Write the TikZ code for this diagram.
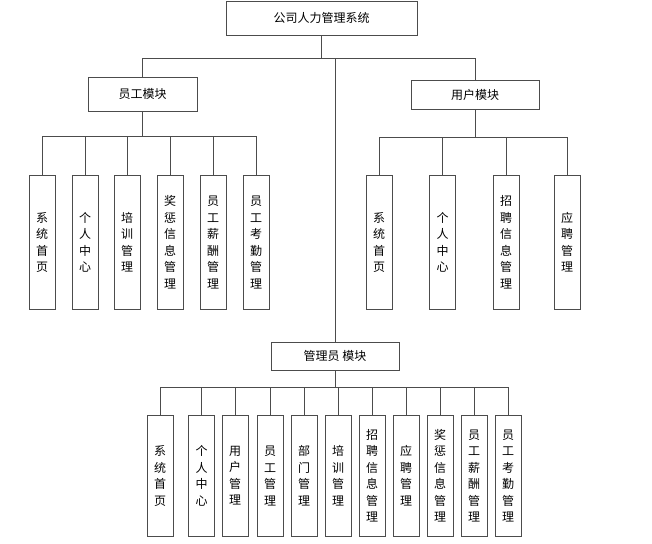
\documentclass[tikz,border=0pt]{standalone}
\usepackage{fontspec}
\setmainfont{Noto Sans CJK SC}
\begin{document}
\begin{tikzpicture}[x=1pt,y=-1pt,
  box/.style={draw=black!70,line width=0.8pt,inner sep=0pt,font=\fontsize{12}{16.5}\selectfont,align=center},
  leaf/.style={box,minimum width=26pt,anchor=north},
  link/.style={draw=black!70,line width=0.8pt}]
\useasboundingbox[fill=white] (0,0) rectangle (652,543);
\node[box,minimum width=191pt,minimum height=34pt] (top) at (321.5,18) {公司人力管理系统};
\node[box,minimum width=109pt,minimum height=34pt] (emp) at (142.5,94) {员工模块};
\node[box,minimum width=128pt,minimum height=29pt] (usr) at (475,94.5) {用户模块};
\node[box,minimum width=128pt,minimum height=28pt] (adm) at (335,356) {管理员 模块};
\draw[link] (top.south) -- ++(0,23) -| (emp.north);
\draw[link] (top.south) -- ++(0,23) -| (usr.north);
\draw[link] (top.south) -- ++(0,23) -| (adm.north);
\foreach \n/\x/\t in {e1/42/{系\\统\\首\\页},e2/85/{个\\人\\中\\心},e3/127/{培\\训\\管\\理},e4/170/{奖\\惩\\信\\息\\管\\理},e5/213/{员\\工\\薪\\酬\\管\\理},e6/256/{员\\工\\考\\勤\\管\\理}}{
  \node[leaf,minimum height=134pt] (\n) at (\x,175) {\t};
  \draw[link] (emp.south) -- ++(0,25) -| (\n.north);
}
\foreach \n/\x/\t in {u1/379/{系\\统\\首\\页},u2/442.5/{个\\人\\中\\心},u3/506/{招\\聘\\信\\息\\管\\理},u4/567/{应\\聘\\管\\理}}{
  \node[leaf,minimum height=134pt] (\n) at (\x,175) {\t};
  \draw[link] (usr.south) -- ++(0,28) -| (\n.north);
}
\foreach \n/\x/\t in {a1/160/{系\\统\\首\\页},a2/201.5/{个\\人\\中\\心},a3/235/{用\\户\\管\\理},a4/270/{员\\工\\管\\理},a5/304/{部\\门\\管\\理},a6/338/{培\\训\\管\\理},a7/372/{招\\聘\\信\\息\\管\\理},a8/406/{应\\聘\\管\\理},a9/440/{奖\\惩\\信\\息\\管\\理},a10/474/{员\\工\\薪\\酬\\管\\理},a11/508/{员\\工\\考\\勤\\管\\理}}{
  \node[leaf,minimum height=121pt] (\n) at (\x,415) {\t};
  \draw[link] (adm.south) -- ++(0,17) -| (\n.north);
}
\end{tikzpicture}
\end{document}
